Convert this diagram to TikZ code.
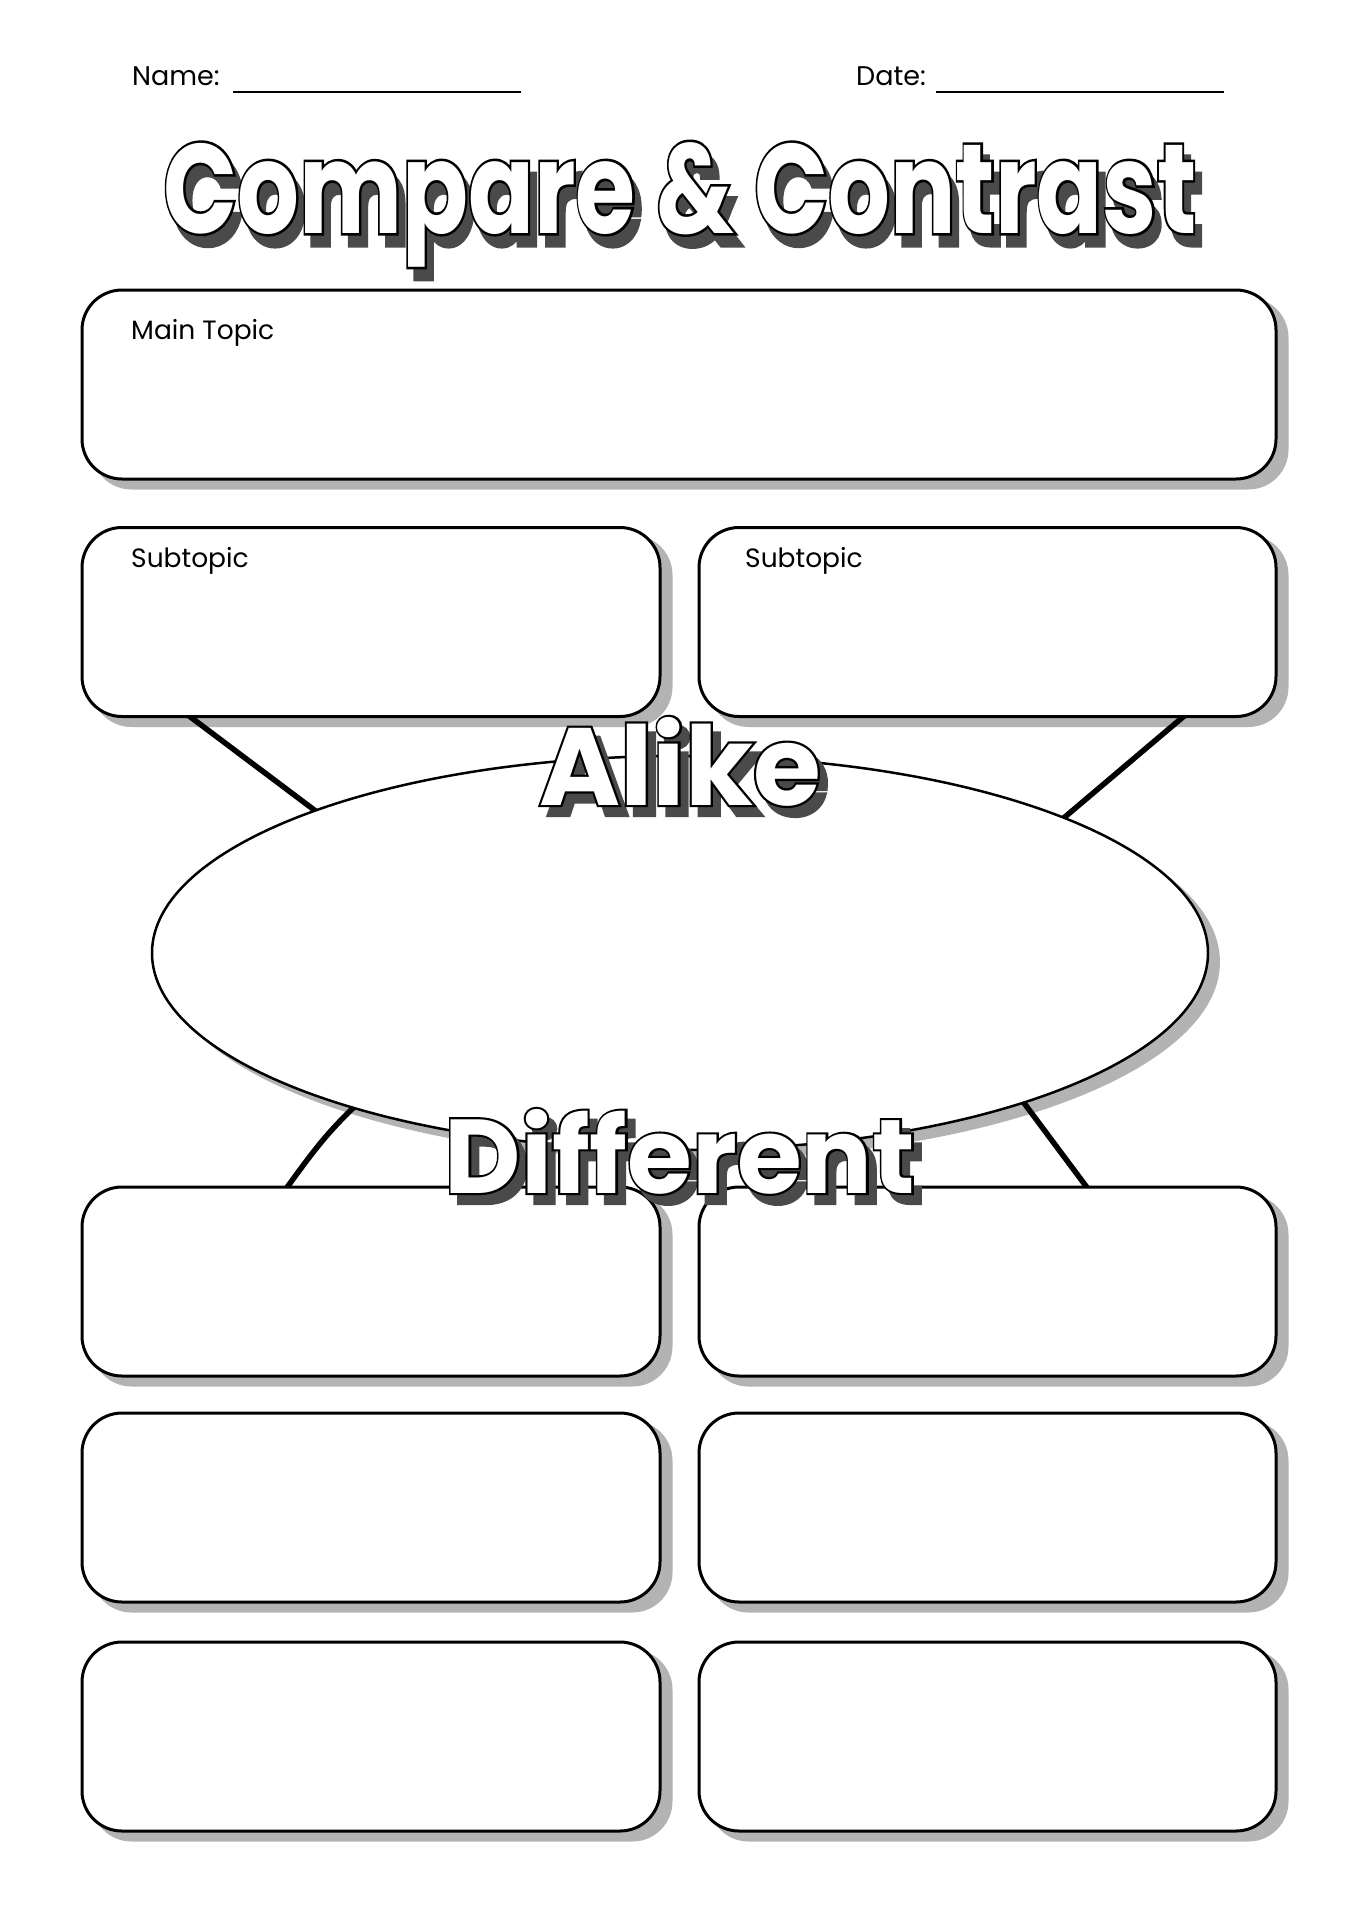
\documentclass[tikz,border=0pt]{standalone}
\usepackage{fontspec}
\setmainfont{Poppins}
\usetikzlibrary{calc,shapes.geometric}
\definecolor{boxshadow}{HTML}{B3B3B3}
\definecolor{txtshadow}{HTML}{4A4A4A}
\pgfdeclarelayer{shadowlayer}
\pgfdeclarelayer{connlayer}
\pgfsetlayers{shadowlayer,connlayer,main}
\newcommand\bubble[4]{%
  \rlap{\hspace*{#2}\raisebox{#3}{\addfontfeature{FakeBold=#1}\textcolor{txtshadow}{#4}}}%
  \rlap{\addfontfeature{FakeBold=#1}\textcolor{black}{#4}}%
  \textcolor{white}{#4}}
\tikzset{
  box/.style={draw, line width=3pt, fill=white, rounded corners=40pt, inner sep=0pt, minimum height=189pt},
  conn/.style={line width=5.5pt},
  boxlabel/.style={anchor=base west, inner sep=0pt, font=\fontsize{26.5}{26.5}\selectfont},
  headlabel/.style={anchor=base west, inner sep=0pt, font=\fontsize{27}{27}\selectfont},
  blank/.style={line width=2pt},
}
\begin{document}
\begin{tikzpicture}[x=1pt,y=-1pt]
\useasboundingbox (0,0) rectangle (1358,1920);
\begin{pgfonlayer}{shadowlayer}
  \fill[white] (0,0) rectangle (1358,1920);
\end{pgfonlayer}

% header
\node[headlabel] (namelbl) at (132,85) {Name:};
\coordinate (nameA) at (233,92);
\coordinate (nameB) at (521,92);
\draw[blank] (nameA) -- (nameB);
\node[headlabel] (datelbl) at (856,85) {Date:};
\coordinate (dateA) at (936,92);
\coordinate (dateB) at (1224,92);
\draw[blank] (dateA) -- (dateB);

% title
\node[anchor=base, inner sep=0pt] (title) at (680,233)
  {\scalebox{0.765}[1]{\fontsize{127}{127}\selectfont\bfseries\bubble{4}{9pt}{-12pt}{Compare \& Contrast}}};

% boxes
\node[box, minimum width=1194pt] (main) at (679,384.5) {};
\node[box, minimum width=578pt] (subL) at (371,622) {};
\node[box, minimum width=577pt] (subR) at (987.5,622) {};
\node[shape=ellipse, draw, line width=2.5pt, fill=white, inner sep=0pt,
      minimum width=1056pt, minimum height=394pt] (ell) at (680,953) {};
\node[box, minimum width=578pt] (r1L) at (371,1281.5) {};
\node[box, minimum width=577pt] (r1R) at (987.5,1281.5) {};
\node[box, minimum width=578pt] (r2L) at (371,1507.5) {};
\node[box, minimum width=577pt] (r2R) at (987.5,1507.5) {};
\node[box, minimum width=578pt] (r3L) at (371,1736.5) {};
\node[box, minimum width=577pt] (r3R) at (987.5,1736.5) {};

\node[boxlabel] (mainlbl) at (131,339) {Main Topic};
\node[boxlabel] (subLlbl) at (131,567) {Subtopic};
\node[boxlabel] (subRlbl) at (745,567) {Subtopic};

% connectors
\begin{pgfonlayer}{connlayer}
  \draw[conn] ($(subL.south west)+(106,-4)$) -- ($(ell.center)!0.97!(ell.159)$);
  \draw[conn] ($(subR.south west)+(489,-4)$) -- ($(ell.center)!0.97!(ell.19)$);
  \draw[conn] ($(ell.center)!0.97!(ell.205.5)$) to[out=223,in=54] ($(r1L.north west)+(205,4)$);
  \draw[conn] ($(ell.center)!0.97!(ell.337)$) -- ($(r1R.north west)+(391,4)$);
\end{pgfonlayer}

% shadows
\begin{pgfonlayer}{shadowlayer}
  \foreach \n in {main,subL,subR,r1L,r1R,r2L,r2R,r3L,r3R}{
    \fill[boxshadow, rounded corners=40pt] ($(\n.south west)+(11,9)$) rectangle ($(\n.north east)+(11,9)$);}
  \fill[boxshadow] ($(ell.center)+(11,9)$) ellipse [x radius=529pt, y radius=198pt];
\end{pgfonlayer}

% alike / different
\node[anchor=base, inner sep=0pt] (alike) at (680,805)
  {\fontsize{110}{110}\selectfont\bfseries\bubble{4}{8pt}{-10pt}{Alike}};
\node[anchor=base, inner sep=0pt] (different) at (680,1193)
  {\fontsize{105}{105}\selectfont\bfseries\bubble{4}{8pt}{-10pt}{Different}};
\end{tikzpicture}
\end{document}
